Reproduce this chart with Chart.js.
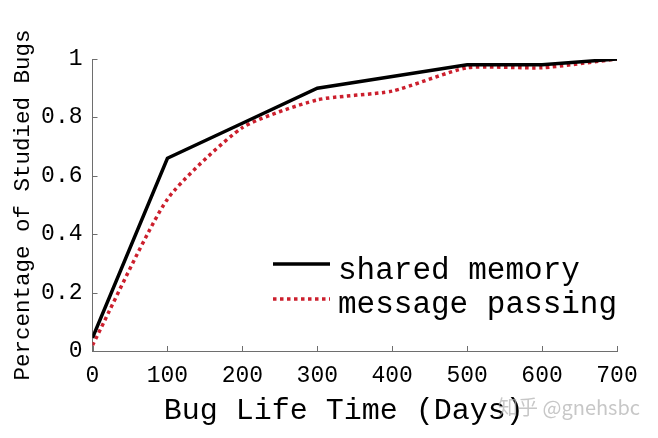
<!DOCTYPE html>
<html>
<head>
<meta charset="utf-8">
<script src="https://cdn.jsdelivr.net/npm/chart.js@4"></script>
<style>
  html, body { margin: 0; padding: 0; background: #fff; }
  #wrap { width: 658px; height: 438px; }
</style>
</head>
<body>
<div id="wrap"><canvas id="bugChart"></canvas></div>
<script>
// --- data ---
const days = [0, 100, 200, 300, 400, 500, 600, 700];
const sharedMemory = [0.045, 0.66, 0.78, 0.90, 0.94, 0.98, 0.98, 1.0];
const messagePassing = [0.02, 0.52, 0.765, 0.86, 0.89, 0.97, 0.97, 1.0];
const xTicks = [0, 100, 200, 300, 400, 500, 600, 700];
const yTicks = [0, 0.2, 0.4, 0.6, 0.8, 1];
const xTitle = 'Bug Life Time (Days)';
const yTitle = 'Percentage of Studied Bugs';

const MONO = "'Liberation Mono', 'DejaVu Sans Mono', monospace";
const AXIS_GRAY = '#6e6e6e';

function toPoints(ys) {
    return days.map((d, i) => ({ x: d, y: ys[i] }));
}

// tick marks pointing into the plot, x title, in-plot legend and watermark
const extrasPlugin = {
    id: 'extras',
    afterDraw(chart) {
        const ctx = chart.ctx;
        const x = chart.scales.x, y = chart.scales.y;
        const area = chart.chartArea;

        ctx.save();
        ctx.strokeStyle = AXIS_GRAY;
        ctx.lineWidth = 1;
        ctx.beginPath();
        xTicks.forEach(v => {
            const px = Math.round(x.getPixelForValue(v)) + 0.5;
            ctx.moveTo(px, area.bottom);
            ctx.lineTo(px, area.bottom - 5);
        });
        yTicks.forEach(v => {
            const py = Math.round(y.getPixelForValue(v)) + 0.5;
            ctx.moveTo(area.left, py);
            ctx.lineTo(area.left + 5, py);
        });
        ctx.stroke();

        // x axis title (sits a little left of the plot centre in the original)
        ctx.fillStyle = '#000';
        ctx.font = '30px ' + MONO;
        ctx.textAlign = 'center';
        ctx.textBaseline = 'middle';
        ctx.fillText(xTitle, (area.left + area.right) / 2 - 11, 411);

        // legend
        const rows = [
            { ds: chart.data.datasets[0], ly: 264, ty: 279 },
            { ds: chart.data.datasets[1], ly: 299, ty: 313 }
        ];
        rows.forEach(r => {
            ctx.beginPath();
            ctx.strokeStyle = r.ds.borderColor;
            ctx.lineWidth = r.ds.borderWidth;
            ctx.setLineDash(r.ds.borderDash || []);
            ctx.moveTo(273, r.ly);
            ctx.lineTo(330, r.ly);
            ctx.stroke();
            ctx.setLineDash([]);
            ctx.fillStyle = '#000';
            ctx.font = '31px ' + MONO;
            ctx.textBaseline = 'alphabetic';
            ctx.textAlign = 'left';
            ctx.fillText(r.ds.label, 338, r.ty);
        });

        // watermark
        ctx.font = "20px 'Noto Sans CJK SC', 'Noto Sans', sans-serif";
        ctx.fillStyle = 'rgba(175,175,175,0.7)';
        ctx.textBaseline = 'middle';
        ctx.textAlign = 'left';
        ctx.fillText('知乎 @gnehsbc', 498, 407);
        ctx.restore();
    }
};

const ctx = document.getElementById('bugChart').getContext('2d');
new Chart(ctx, {
    type: 'line',
    data: {
        datasets: [
            {
                label: 'shared memory',
                data: toPoints(sharedMemory),
                borderColor: '#000000',
                borderWidth: 3.5,
                pointRadius: 0,
                tension: 0,
                fill: false
            },
            {
                label: 'message passing',
                data: toPoints(messagePassing),
                borderColor: '#cc1f2d',
                borderWidth: 3.5,
                borderDash: [3.5, 3.5],
                pointRadius: 0,
                tension: 0.2,
                fill: false
            }
        ]
    },
    options: {
        responsive: true,
        maintainAspectRatio: false,
        animation: false,
        layout: { padding: { top: 59, right: 41, left: 0, bottom: 0 } },
        plugins: {
            legend: { display: false },
            tooltip: { enabled: false }
        },
        scales: {
            x: {
                type: 'linear',
                min: 0,
                max: 700,
                afterFit(s) { s.height = 87; },
                afterBuildTicks(s) { s.ticks = xTicks.map(v => ({ value: v })); },
                grid: { display: true, drawOnChartArea: false, drawTicks: false },
                border: { display: true, color: AXIS_GRAY, width: 1 },
                ticks: {
                    color: '#000',
                    font: { family: MONO, size: 23 },
                    padding: 11,
                    maxRotation: 0
                },
                title: { display: false }
            },
            y: {
                min: 0,
                max: 1,
                afterFit(s) { s.width = 92.5; },
                afterBuildTicks(s) { s.ticks = yTicks.map(v => ({ value: v })); },
                grid: { display: true, drawOnChartArea: false, drawTicks: false },
                border: { display: true, color: AXIS_GRAY, width: 1 },
                ticks: {
                    color: '#000',
                    font: { family: MONO, size: 23 },
                    padding: 10,
                    callback: v => String(v)
                },
                title: {
                    display: true,
                    text: yTitle,
                    color: '#000',
                    font: { family: MONO, size: 22.5 },
                    padding: { top: 10, bottom: 0 }
                }
            }
        }
    },
    plugins: [extrasPlugin]
});
</script>
</body>
</html>
